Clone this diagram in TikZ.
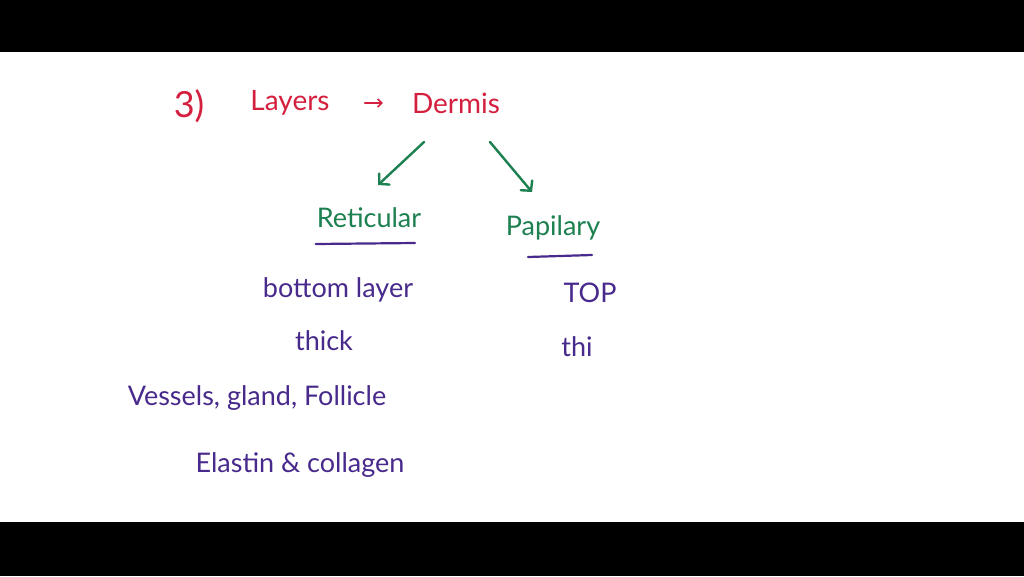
\documentclass[tikz,border=0pt]{standalone}
\usepackage{fontspec}
\setmainfont{Lato}
\usetikzlibrary{arrows.meta}
\definecolor{inkred}{RGB}{212,32,62}
\definecolor{inkgreen}{RGB}{28,128,80}
\definecolor{inkpurple}{RGB}{72,42,140}
\tikzset{
  ttl/.style={text=inkred, font=\fontsize{28}{30}\selectfont, inner sep=1pt},
  sub/.style={text=inkgreen, font=\fontsize{27}{29}\selectfont, inner sep=1pt},
  note/.style={text=inkpurple, font=\fontsize{27}{29}\selectfont, inner sep=1pt},
  arr/.style={line width=2.4pt, inkgreen, line cap=round, -{Straight Barb[length=7pt, width=15pt, line cap=round]}},
  redarr/.style={line width=1.6pt, inkred, line cap=round, -{Straight Barb[length=4pt, width=8pt]}},
  uline/.style={line width=2.2pt, inkpurple, line cap=round},
}

\begin{document}
\begin{tikzpicture}[x=1pt, y=-1pt]
\fill[black] (0,0) rectangle (1024,576);
\fill[white] (0,52) rectangle (1024,522);

% heading
\node[ttl, font=\fontsize{36}{38}\selectfont] (num) at (189,106) {3)};
\node[ttl] (layers) at (290,103) {Layers};
\node[ttl] (dermis) at (456,103) {Dermis};
\draw[redarr] (layers) -- (dermis) [shorten <=34pt, shorten >=28pt];

% the two kinds
\node[sub] (retic) at (369,218) {Reticular};
\node[sub] (papil) at (553,228) {Papilary};
\draw[arr] ([shift={(-32,39)}]dermis.center) -- ([shift={(9,-33)}]retic.center);
\draw[arr] ([shift={(34,39)}]dermis.center) -- ([shift={(-21,-36)}]papil.center);
\draw[uline] ([shift={(0,26)}]retic.west) -- ([shift={(46,25)}]retic.center);
\draw[uline] ([shift={(-25,29)}]papil.center) -- ([shift={(39,27)}]papil.center);

% reticular
\node[note] (bottom) at (338,290) {bottom layer};
\node[note] (thick) at (324,341) {thick};
\node[note] (vessels) at (257,398) {Vessels, gland, Follicle};
\node[note] (elastin) at (300,465) {Elastin \& collagen};

% papillary
\node[note] (top) at (590,293) {TOP};
\node[note] (thin) at (577,347) {thi};

\end{tikzpicture}
\end{document}
